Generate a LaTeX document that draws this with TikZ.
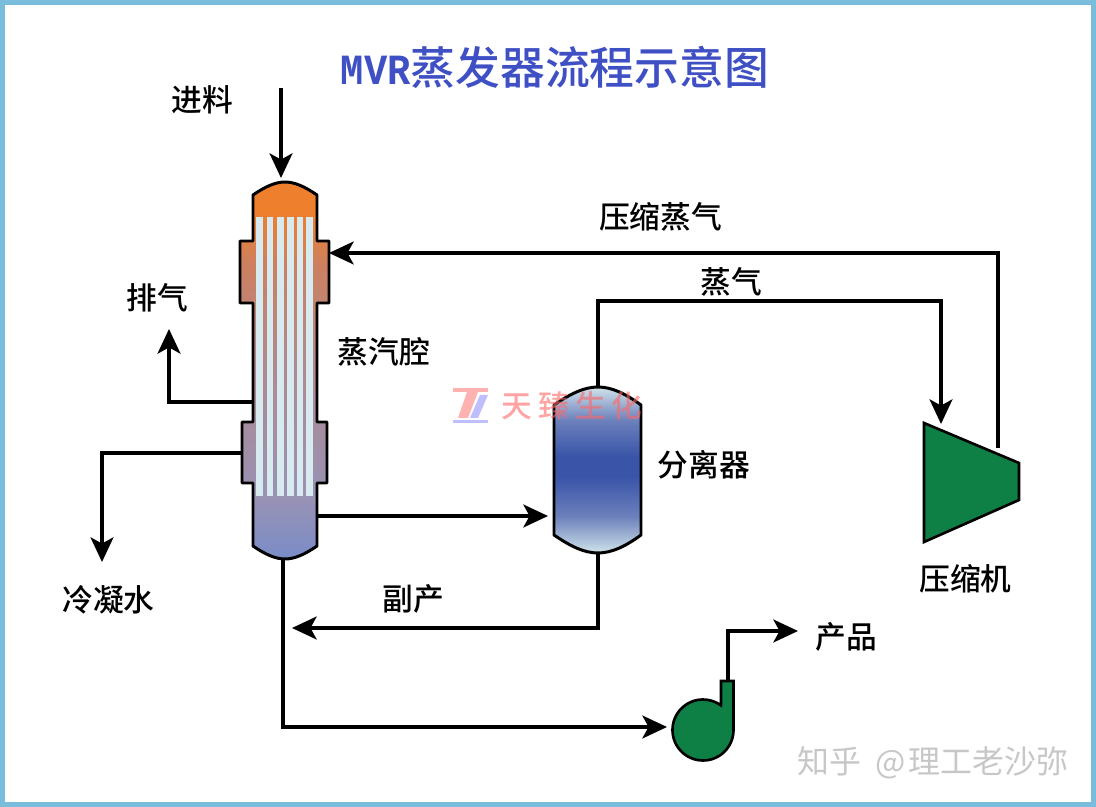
\documentclass[tikz,border=0pt]{standalone}
\usepackage{fontspec}
\setmainfont{Noto Sans CJK SC}
\newfontfamily\labelfnt{Noto Sans CJK SC Medium}
\newfontfamily\monofnt[FakeStretch=0.9]{Liberation Mono}
\usetikzlibrary{arrows.meta}
\definecolor{framecol}{HTML}{7ABCDB}
\definecolor{titlecol}{HTML}{3F4FC4}
\definecolor{machinecol}{HTML}{0F8045}
\definecolor{tubecol}{HTML}{D6EAF0}
\definecolor{evapa}{HTML}{7A8CC8}
\definecolor{evapb}{HTML}{9892B4}
\definecolor{evapc}{HTML}{AE8A90}
\definecolor{evapd}{HTML}{CC8060}
\definecolor{evape}{HTML}{EE7F2D}
\definecolor{sepa}{HTML}{CFE3EA}
\definecolor{sepb}{HTML}{6C80BC}
\definecolor{sepc}{HTML}{3A55A8}
\pgfdeclareverticalshading{evapshade}{100bp}{
  color(0bp)=(evapa);
  color(25bp)=(evapa);
  color(33bp)=(evapb);
  color(50bp)=(evapc);
  color(64bp)=(evapd);
  color(71bp)=(evape);
  color(100bp)=(evape)}
\pgfdeclareverticalshading{sepshade}{100bp}{
  color(0bp)=(sepa);
  color(25bp)=(sepa);
  color(36bp)=(sepb);
  color(48bp)=(sepc);
  color(54bp)=(sepc);
  color(65bp)=(sepb);
  color(75bp)=(sepa);
  color(100bp)=(sepa)}
\colorlet{markcol}{red!60!white}
\tikzset{
  flow/.style={line width=2pt, -{Stealth[length=14pt,width=13pt,inset=3.5pt]}},
  vessel/.style={draw=black, line width=1.7pt, line join=round},
  machine/.style={draw=black, fill=machinecol, line width=1.5pt, line join=miter},
  lbl/.style={font=\labelfnt\fontsize{17.5}{20}\selectfont, inner sep=0pt}
}
\begin{document}
\begin{tikzpicture}[x=0.02cm, y=0.02cm]
      \useasboundingbox (0,0) rectangle (1096,-807);
      % frame
      \draw [framecol, line width=3pt] (2.5,-2.5) rectangle (1093.5,-804.5);
      \node [inner sep=0pt, font=\labelfnt\fontsize{25.5}{30}\selectfont, text=titlecol] (title) at (555,-67) {{\monofnt\bfseries\fontsize{24.5}{30}\selectfont MVR}蒸发器流程示意图};
      % evaporator
      \coordinate (evapfeed) at (281,-178);
      \coordinate (evapsteam) at (329,-253);
      \coordinate (evapvent) at (253,-402);
      \coordinate (evapdrain) at (241,-453);
      \coordinate (evapside) at (317,-516);
      \coordinate (evapbot) at (283,-559);
      \draw [vessel, shading=evapshade] (253,-195) .. controls (266,-186) and (276,-182) .. (285,-182) .. controls (294,-182) and (304,-186) .. (317,-195) -- (317,-241) -- (329,-241) -- (329,-303) -- (317,-303) -- (317,-422) -- (327,-422) -- (327,-483) -- (317,-483) -- (317,-546) .. controls (304,-555) and (294,-559) .. (285,-559) .. controls (276,-559) and (266,-555) .. (253,-546) -- (253,-483) -- (242,-483) -- (242,-422) -- (253,-422) -- (253,-303) -- (240,-303) -- (240,-241) -- (253,-241) -- cycle;
      \foreach \xa/\xb in {256/263, 267/273, 277/284, 287/294, 297/303, 306/313}
        \fill [tubecol] (\xa,-217) rectangle (\xb,-496);
      % separator
      \coordinate (septop) at (598,-387);
      \coordinate (sepbot) at (598,-553);
      \coordinate (sepin) at (548,-516);
      \draw [vessel, shading=sepshade] (554,-405) .. controls (570,-394) and (584,-387) .. (598,-387) .. controls (612,-387) and (626,-394) .. (641,-405) -- (641,-535) .. controls (626,-546) and (612,-553) .. (598,-553) .. controls (584,-553) and (570,-546) .. (554,-535) -- cycle;
      % compressor
      \coordinate (compin) at (941,-424);
      \coordinate (compout) at (998,-448);
      \draw [machine] (924,-423) -- (1019,-463) -- (1019,-500) -- (924,-542) -- cycle;
      % pump
      \coordinate (pumpin) at (667,-727);
      \coordinate (pumpout) at (728,-681);
      \draw [machine] (721,-681) -- (733.5,-681) -- (733.5,-730) arc (0:-306:30.5) -- cycle;
      % free ends and bends
      \coordinate (feedsrc) at (281,-88);
      \coordinate (steambend) at (598,-301);
      \coordinate (ventend) at (169,-329);
      \coordinate (drainend) at (102,-562);
      \coordinate (byend) at (292,-628);
      \coordinate (prodend) at (798,-631);
      % pipes
      \draw [flow] (feedsrc) -- (evapfeed);
      \draw [flow] (compout) |- (evapsteam);
      \draw [flow] (septop) -- (steambend) -| (compin);
      \draw [flow] (evapvent) -| (ventend);
      \draw [flow] (evapdrain) -| (drainend);
      \draw [flow] (evapside) -- (sepin);
      \draw [flow] (sepbot) |- (byend);
      \draw [flow] (evapbot) |- (pumpin);
      \draw [flow] (pumpout) |- (prodend);
      % labels
      \node [lbl] (feedlbl) at (202,-100) {进料};
      \node [lbl] (ventlbl) at (157.5,-298) {排气};
      \node [lbl] (chestlbl) at (384,-352) {蒸汽腔};
      \node [lbl] (seplbl) at (704,-465) {分离器};
      \node [lbl] (cvaplbl) at (660.5,-217) {压缩蒸气};
      \node [lbl] (vaplbl) at (731,-282) {蒸气};
      \node [lbl] (complbl) at (965.5,-579) {压缩机};
      \node [lbl] (bylbl) at (413.5,-599) {副产};
      \node [lbl] (prodlbl) at (846.5,-637) {产品};
      \node [lbl] (drainlbl) at (108.5,-600) {冷凝水};
      % marks
      \fill [red!30] (453,-388) rectangle (488,-392);
      \fill [red!30] (467,-392) -- (478,-392) -- (468,-418) -- (458,-418) -- cycle;
      \fill [blue!25] (480,-395) -- (488,-395) -- (478,-418) -- (470,-418) -- cycle;
      \fill [blue!25] (453,-420) rectangle (488,-423);
      \node [inner sep=0pt, text=markcol, text opacity=0.6, font=\labelfnt\fontsize{17.5}{20}\selectfont] (marklbl) at (572,-406) {天\hspace{3.5pt}臻\hspace{3.5pt}生\hspace{3.5pt}化};
      \node [inner sep=0pt, text=black!22, font=\fontsize{18.2}{22}\selectfont] (zhihulbl) at (933,-763) {知乎\hspace{8pt}@\hspace{2pt}理工老沙弥};
    \end{tikzpicture}
\end{document}
